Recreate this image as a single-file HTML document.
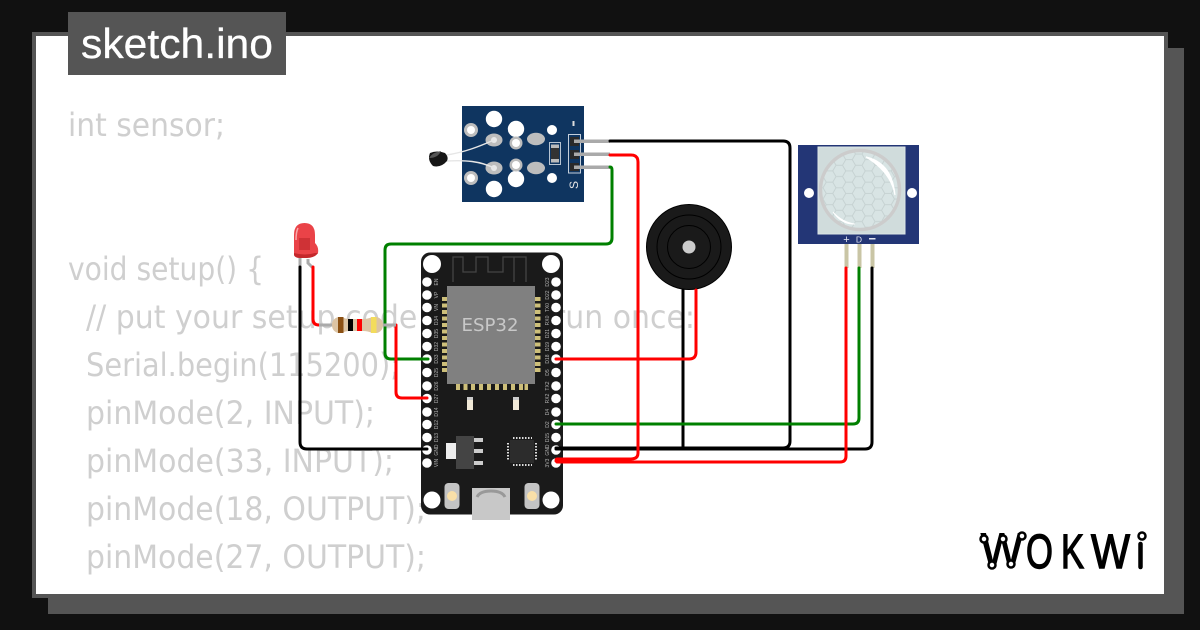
<!DOCTYPE html>
<html><head><meta charset="utf-8"><style>
html,body{margin:0;padding:0;background:#111;width:1200px;height:630px;overflow:hidden}
svg{display:block}
.c{font-family:"DejaVu Sans",sans-serif;font-size:32px;fill:#cfcfcf}
.l{font-family:"Liberation Sans",sans-serif;font-size:5px;fill:#b0b0b0;text-anchor:middle}
.w{fill:none;stroke-width:3;stroke-linejoin:round;stroke-linecap:round}
.lg{font-family:"Liberation Sans",sans-serif;font-size:48px;fill:#000;stroke:#000;stroke-width:1.4}
</style></head><body>
<svg width="1200" height="630" viewBox="0 0 1200 630" xmlns="http://www.w3.org/2000/svg">
<defs>
<pattern id="hex" width="19.5" height="11.26" patternUnits="userSpaceOnUse" x="4" y="2">
<path d="M0 5.63 L3.25 0 H9.75 L13 5.63 L9.75 11.26 H3.25 Z M13 5.63 H19.5" fill="none" stroke="#c6d2d2" stroke-width="1"/>
</pattern>
</defs>
<rect width="1200" height="630" fill="#111"/>
<rect x="48" y="48" width="1136" height="566" fill="#555"/>
<rect x="32" y="32" width="1136" height="566" fill="#555"/>
<rect x="36" y="36" width="1128" height="558" fill="#fff"/>
<rect x="68" y="12" width="218" height="63" fill="#555"/>
<text x="81" y="58" font-family="'Liberation Sans',sans-serif" font-size="42" fill="#fff" stroke="#fff" stroke-width=".3" textLength="192" lengthAdjust="spacingAndGlyphs">sketch.ino</text>

<text class="c" x="68" y="136" textLength="157" lengthAdjust="spacingAndGlyphs">int sensor;</text>
<text class="c" x="68" y="280" textLength="196" lengthAdjust="spacingAndGlyphs">void setup() {</text>
<text class="c" x="86" y="328" textLength="609" lengthAdjust="spacingAndGlyphs">// put your setup code here, to run once:</text>
<text class="c" x="86" y="376" textLength="314" lengthAdjust="spacingAndGlyphs">Serial.begin(115200);</text>
<text class="c" x="86" y="424" textLength="289" lengthAdjust="spacingAndGlyphs">pinMode(2, INPUT);</text>
<text class="c" x="86" y="472" textLength="308" lengthAdjust="spacingAndGlyphs">pinMode(33, INPUT);</text>
<text class="c" x="86" y="520" textLength="340" lengthAdjust="spacingAndGlyphs">pinMode(18, OUTPUT);</text>
<text class="c" x="86" y="568" textLength="340" lengthAdjust="spacingAndGlyphs">pinMode(27, OUTPUT);</text>

<!-- thermistor module -->
<rect x="462" y="106" width="122" height="96" fill="#0f3560"/>
<g fill="#fff">
<circle cx="494" cy="119" r="8.2"/><circle cx="516" cy="129" r="8.2"/><circle cx="516" cy="179" r="8.2"/><circle cx="494" cy="189" r="8.2"/>
<circle cx="552" cy="130" r="5"/><circle cx="552" cy="178" r="5"/>
</g>
<g fill="#bdbdbd">
<circle cx="471" cy="130" r="7"/><circle cx="471" cy="178" r="7"/>
<circle cx="516" cy="143" r="6.5"/><circle cx="516" cy="165" r="6.5"/>
<ellipse cx="494" cy="140" rx="8.5" ry="6.5"/><ellipse cx="494" cy="168" rx="8.5" ry="6.5"/>
<ellipse cx="536" cy="139" rx="9" ry="6.2"/><ellipse cx="536" cy="168" rx="9" ry="6.2"/>
</g>
<g fill="#fff"><circle cx="471" cy="130" r="4"/><circle cx="471" cy="178" r="4"/><circle cx="516" cy="143" r="4"/><circle cx="516" cy="165" r="4"/></g>
<g fill="#e8e8e8"><circle cx="494" cy="140" r="3"/><circle cx="494" cy="168" r="3"/></g>
<path d="M447 155 C465 152 478 147 494 140 M447 161 C465 160 480 161 494 168" stroke="#e6e6e6" stroke-width="1.4" fill="none"/>
<path d="M430 153 Q437 150 445 153 Q449 157 447 161 Q441 168 433 166 Q427 160 430 153Z" fill="#161616"/>
<path d="M429 158 Q433 152 441 151 Q438 158 429 158Z" fill="#555"/>
<rect x="549.500" y="142.500" width="11" height="22" fill="#0f3560" stroke="#b7c4d2"/>
<rect x="551" y="144.500" width="8" height="18" fill="#bbb"/>
<rect x="551" y="148" width="8" height="11" fill="#333"/>
<rect x="568.500" y="134.500" width="12" height="38.500" fill="#0f3560" stroke="#c4cfdb"/>
<g fill="#2a2a2a"><rect x="570" y="137" width="9" height="9"/><rect x="570" y="150" width="9" height="9"/><rect x="570" y="163" width="9" height="8"/></g>
<g fill="#aaa"><rect x="574" y="139.500" width="36" height="3.500"/><rect x="574" y="152.500" width="36" height="3.500"/><rect x="574" y="165.500" width="36" height="3.500"/></g>
<rect x="572.500" y="121" width="2" height="5" fill="#ddd"/>
<text x="0" y="0" transform="translate(578,185) rotate(-90)" font-family="'Liberation Sans',sans-serif" font-size="12" fill="#e4e4e4" text-anchor="middle">S</text>

<!-- LED -->
<path d="M294 255 V235 Q294 223 304.500 223 Q315 223 315 235 V243 Q319 247 318 253 Q315 258 307 257 H300 Q294 257 294 255Z" fill="#ea4348"/>
<path d="M294 253 Q305 256 315 253 L318 253 Q314 258 307 258 H300 Q295 258 294 255Z" fill="#c4282c"/>
<path d="M299 238 L310 238 L310 250 L299 250Z" fill="#cf3236"/>
<path d="M298 228 Q296 232 296 240" stroke="#f8a8aa" stroke-width="1.500" fill="none"/>
<path d="M300 258 V268 M308 259 V263 L313 268" stroke="#aaa" stroke-width="3" fill="none"/>

<!-- buzzer -->
<circle cx="689" cy="247" r="42.500" fill="#1a1a1a" stroke="#000" stroke-width="1"/>
<circle cx="689" cy="247" r="32" fill="none" stroke="#000" stroke-width="1"/>
<circle cx="689" cy="247" r="21.500" fill="none" stroke="#000" stroke-width="1"/>
<circle cx="689" cy="247" r="6.500" fill="#ccc"/>

<!-- PIR -->
<rect x="798" y="145" width="121" height="99" fill="#233676"/>
<rect x="818" y="147" width="87" height="87" fill="#d0dcdc" stroke="#dde6e6"/>
<circle cx="860" cy="190" r="39.500" fill="#d8e4e4"/>
<circle cx="860" cy="190" r="39.500" fill="url(#hex)" stroke="#cccccc" stroke-width="3.500"/>
<path d="M866 157 Q892 163 895 195 Q891 172 866 157Z" fill="#fff" stroke="#fff" stroke-width="1.200"/>
<path d="M833 212 Q842 222 855 224 Q842 225 833 212Z" fill="#fff" stroke="#fff" stroke-width=".8"/>
<circle cx="809" cy="193" r="5" fill="#fff"/><circle cx="912" cy="193" r="5" fill="#fff"/>
<g fill="#e0e4f0" font-family="'Liberation Sans',sans-serif" text-anchor="middle">
<text x="846.500" y="243" font-size="11">+</text><text x="859" y="242.500" font-size="8.500">D</text>
</g>
<rect x="869" y="238" width="6.500" height="1.500" fill="#e0e4f0"/>
<g fill="#c9c5a5"><rect x="844.500" y="244" width="4" height="24"/><rect x="857.500" y="244" width="4" height="24"/><rect x="870.500" y="244" width="4" height="24"/></g>

<!-- ESP32 board -->
<rect x="421" y="252.500" width="142" height="262" rx="9" fill="#1a1a1a"/>
<g fill="#fff">
<circle cx="432" cy="264" r="9"/><circle cx="551" cy="264" r="9"/><circle cx="432" cy="500" r="8.500"/><circle cx="551" cy="500" r="8.500"/>
<circle cx="427" cy="282" r="4.800"/><circle cx="427" cy="295" r="4.800"/><circle cx="427" cy="307.500" r="4.800"/><circle cx="427" cy="320.500" r="4.800"/><circle cx="427" cy="333.500" r="4.800"/><circle cx="427" cy="346.500" r="4.800"/><circle cx="427" cy="359" r="4.800"/><circle cx="427" cy="372.500" r="4.800"/><circle cx="427" cy="386" r="4.800"/><circle cx="427" cy="398.500" r="4.800"/><circle cx="427" cy="412" r="4.800"/><circle cx="427" cy="424.500" r="4.800"/><circle cx="427" cy="437.500" r="4.800"/><circle cx="427" cy="450" r="4.800"/><circle cx="427" cy="463" r="4.800"/>
<circle cx="556" cy="282" r="4.800"/><circle cx="556" cy="295" r="4.800"/><circle cx="556" cy="307.500" r="4.800"/><circle cx="556" cy="320.500" r="4.800"/><circle cx="556" cy="333.500" r="4.800"/><circle cx="556" cy="346.500" r="4.800"/><circle cx="556" cy="359" r="4.800"/><circle cx="556" cy="372.500" r="4.800"/><circle cx="556" cy="386" r="4.800"/><circle cx="556" cy="398.500" r="4.800"/><circle cx="556" cy="412" r="4.800"/><circle cx="556" cy="424.500" r="4.800"/><circle cx="556" cy="437.500" r="4.800"/><circle cx="556" cy="450" r="4.800"/><circle cx="556" cy="463" r="4.800"/>
</g>
<g>
<text class="l" transform="translate(438,282) rotate(-90)">EN</text><text class="l" transform="translate(438,295) rotate(-90)">VP</text><text class="l" transform="translate(438,307.500) rotate(-90)">VN</text><text class="l" transform="translate(438,320.500) rotate(-90)">D34</text><text class="l" transform="translate(438,333.500) rotate(-90)">D35</text><text class="l" transform="translate(438,346.500) rotate(-90)">D32</text><text class="l" transform="translate(438,359) rotate(-90)">D33</text><text class="l" transform="translate(438,372.500) rotate(-90)">D25</text><text class="l" transform="translate(438,386) rotate(-90)">D26</text><text class="l" transform="translate(438,398.500) rotate(-90)">D27</text><text class="l" transform="translate(438,412) rotate(-90)">D14</text><text class="l" transform="translate(438,424.500) rotate(-90)">D12</text><text class="l" transform="translate(438,437.500) rotate(-90)">D13</text><text class="l" transform="translate(438,450) rotate(-90)">GND</text><text class="l" transform="translate(438,463) rotate(-90)">VIN</text>
<text class="l" transform="translate(549,282) rotate(-90)">D23</text><text class="l" transform="translate(549,295) rotate(-90)">D22</text><text class="l" transform="translate(549,307.500) rotate(-90)">TX0</text><text class="l" transform="translate(549,320.500) rotate(-90)">RX0</text><text class="l" transform="translate(549,333.500) rotate(-90)">D21</text><text class="l" transform="translate(549,346.500) rotate(-90)">D19</text><text class="l" transform="translate(549,359) rotate(-90)">D18</text><text class="l" transform="translate(549,372.500) rotate(-90)">D5</text><text class="l" transform="translate(549,386) rotate(-90)">TX2</text><text class="l" transform="translate(549,398.500) rotate(-90)">RX2</text><text class="l" transform="translate(549,412) rotate(-90)">D4</text><text class="l" transform="translate(549,424.500) rotate(-90)">D2</text><text class="l" transform="translate(549,437.500) rotate(-90)">D15</text><text class="l" transform="translate(549,450) rotate(-90)">GND</text><text class="l" transform="translate(549,463) rotate(-90)">3V3</text>
</g>
<path d="M453 282 V257 H463 V272 H476 V257 H488 V272 H503 V257 H526 V282 M514 257 V282" fill="none" stroke="#444" stroke-width="1.300"/>
<g fill="#cdbf7a">
<rect x="442" y="297" width="5.500" height="4"/><rect x="442" y="303.500" width="5.500" height="4"/><rect x="442" y="310" width="5.500" height="4"/><rect x="442" y="316.500" width="5.500" height="4"/><rect x="442" y="323" width="5.500" height="4"/><rect x="442" y="329.500" width="5.500" height="4"/><rect x="442" y="336" width="5.500" height="4"/><rect x="442" y="342.500" width="5.500" height="4"/><rect x="442" y="349" width="5.500" height="4"/><rect x="442" y="355.500" width="5.500" height="4"/><rect x="442" y="362" width="5.500" height="4"/><rect x="442" y="368" width="5.500" height="4"/>
<rect x="535" y="297" width="5.500" height="4"/><rect x="535" y="303.500" width="5.500" height="4"/><rect x="535" y="310" width="5.500" height="4"/><rect x="535" y="316.500" width="5.500" height="4"/><rect x="535" y="323" width="5.500" height="4"/><rect x="535" y="329.500" width="5.500" height="4"/><rect x="535" y="336" width="5.500" height="4"/><rect x="535" y="342.500" width="5.500" height="4"/><rect x="535" y="349" width="5.500" height="4"/><rect x="535" y="355.500" width="5.500" height="4"/><rect x="535" y="362" width="5.500" height="4"/><rect x="535" y="368" width="5.500" height="4"/>
<rect x="456" y="384" width="4" height="6"/><rect x="463.500" y="384" width="4" height="6"/><rect x="471" y="384" width="4" height="6"/><rect x="479" y="384" width="4" height="6"/><rect x="487" y="384" width="4" height="6"/><rect x="495" y="384" width="4" height="6"/><rect x="503" y="384" width="4" height="6"/><rect x="511" y="384" width="4" height="6"/><rect x="519" y="384" width="4" height="6"/><rect x="524.500" y="384" width="3.500" height="6"/>
</g>
<rect x="447" y="286" width="88" height="98" fill="#808080"/>
<text x="490" y="331" font-family="'DejaVu Sans',sans-serif" font-size="18" fill="#c8c8c8" text-anchor="middle" textLength="57" lengthAdjust="spacingAndGlyphs">ESP32</text>
<rect x="467" y="397" width="6" height="13" fill="#f2ead8"/><rect x="513" y="397" width="6" height="13" fill="#f2ead8"/>
<rect x="467" y="397" width="6" height="3" fill="#ccc"/><rect x="513" y="397" width="6" height="3" fill="#ccc"/>
<rect x="456" y="436" width="18" height="33" fill="#444"/>
<rect x="446" y="443" width="10" height="16" fill="#eee"/>
<g fill="#ccc"><rect x="474" y="438" width="9" height="4"/><rect x="474" y="449" width="9" height="4"/><rect x="474" y="461" width="9" height="4"/></g>
<rect x="510" y="440" width="24" height="23" fill="#2c2c2c"/>
<path d="M513 438 H532 M513 465 H532 M508 443 V460 M536 443 V460" stroke="#ddd" stroke-width="2" stroke-dasharray="1.500 1.500" fill="none"/>
<g>
<rect x="444.500" y="483" width="15" height="26" rx="4" fill="#c4c4c4"/><circle cx="452" cy="496" r="5" fill="#f8dfa8"/>
<rect x="524.500" y="483" width="15" height="26" rx="4" fill="#c4c4c4"/><circle cx="532" cy="496" r="5" fill="#f8dfa8"/>
</g>
<rect x="472" y="488" width="38" height="32" fill="#c8c8c8"/>
<path d="M477 497 Q480 491 491 491 Q502 491 505 497" fill="none" stroke="#999" stroke-width="3"/>

<!-- wires -->
<path class="w" stroke="#000" d="M610 141 H783 Q790 141 790 148 V441 Q790 448 783 448 H556"/>
<path class="w" stroke="#000" d="M683 290 V448"/>
<path class="w" stroke="#000" d="M872 268 V442 Q872 449 865 449 H556"/>
<path class="w" stroke="#000" d="M300 267 V442 Q300 449 307 449 H427"/>
<path class="w" stroke="#008000" d="M610 167 Q612 167 612 170 V238 Q612 244 606 244 H391 Q385 244 385 250 V353 Q385 359 391 359 H428"/>
<path class="w" stroke="#008000" d="M859 268 V418 Q859 424 853 424 H556"/>
<path class="w" stroke="#f00" d="M696 290 V352 Q696 359 689 359 H556"/>
<path class="w" stroke="#f00" d="M610 155 H631 Q638 155 638 162 V453 Q638 459 631 459 H557 Q556 459 556 461"/>
<path class="w" stroke="#f00" d="M846 268 V456 Q846 462 840 462 H557"/>
<path class="w" stroke="#f00" d="M313 267 V319 Q313 325 319 325"/>
<path class="w" stroke="#f00" d="M396 325 V392 Q396 398 402 398 H427"/>

<!-- resistor -->
<path d="M319 325 H334 M380 325 H396" stroke="#aaa" stroke-width="3"/>
<path d="M338 317 H342 Q345 319 350 319 H363 Q368 319 372 317 H377 Q383 319 383 325 Q383 331 377 333 H372 Q368 331 363 331 H350 Q345 331 342 333 H338 Q332 331 332 325 Q332 319 338 317Z" fill="#dcc4a4"/>
<rect x="338" y="317" width="5.500" height="16" fill="#8b5013"/>
<rect x="348" y="319" width="5" height="12" fill="#000"/>
<rect x="357" y="319" width="5" height="12" fill="#f00"/>
<rect x="371" y="317" width="5.500" height="16" fill="#f3dc5c"/>

<!-- logo -->
<text class="lg" transform="translate(981,567) scale(.92,1)">W</text>
<text class="lg" transform="translate(1026,568) scale(.72,1)">O</text>
<text class="lg" transform="translate(1061,568) scale(.72,1)">K</text>
<text class="lg" transform="translate(1091,568) scale(.86,1)">W</text>
<path d="M1140.500 544 V567" stroke="#000" stroke-width="4.500" stroke-linecap="round"/>
<g fill="#fff" stroke="#000" stroke-width="2.500">
<circle cx="984" cy="539" r="3.500"/><circle cx="1003" cy="539" r="3.500"/><circle cx="1022" cy="536" r="3.500"/><circle cx="992" cy="565" r="3.500"/><circle cx="1011" cy="564" r="3.500"/><circle cx="1142" cy="536" r="3.500"/>
</g>
</svg>
</body></html>
